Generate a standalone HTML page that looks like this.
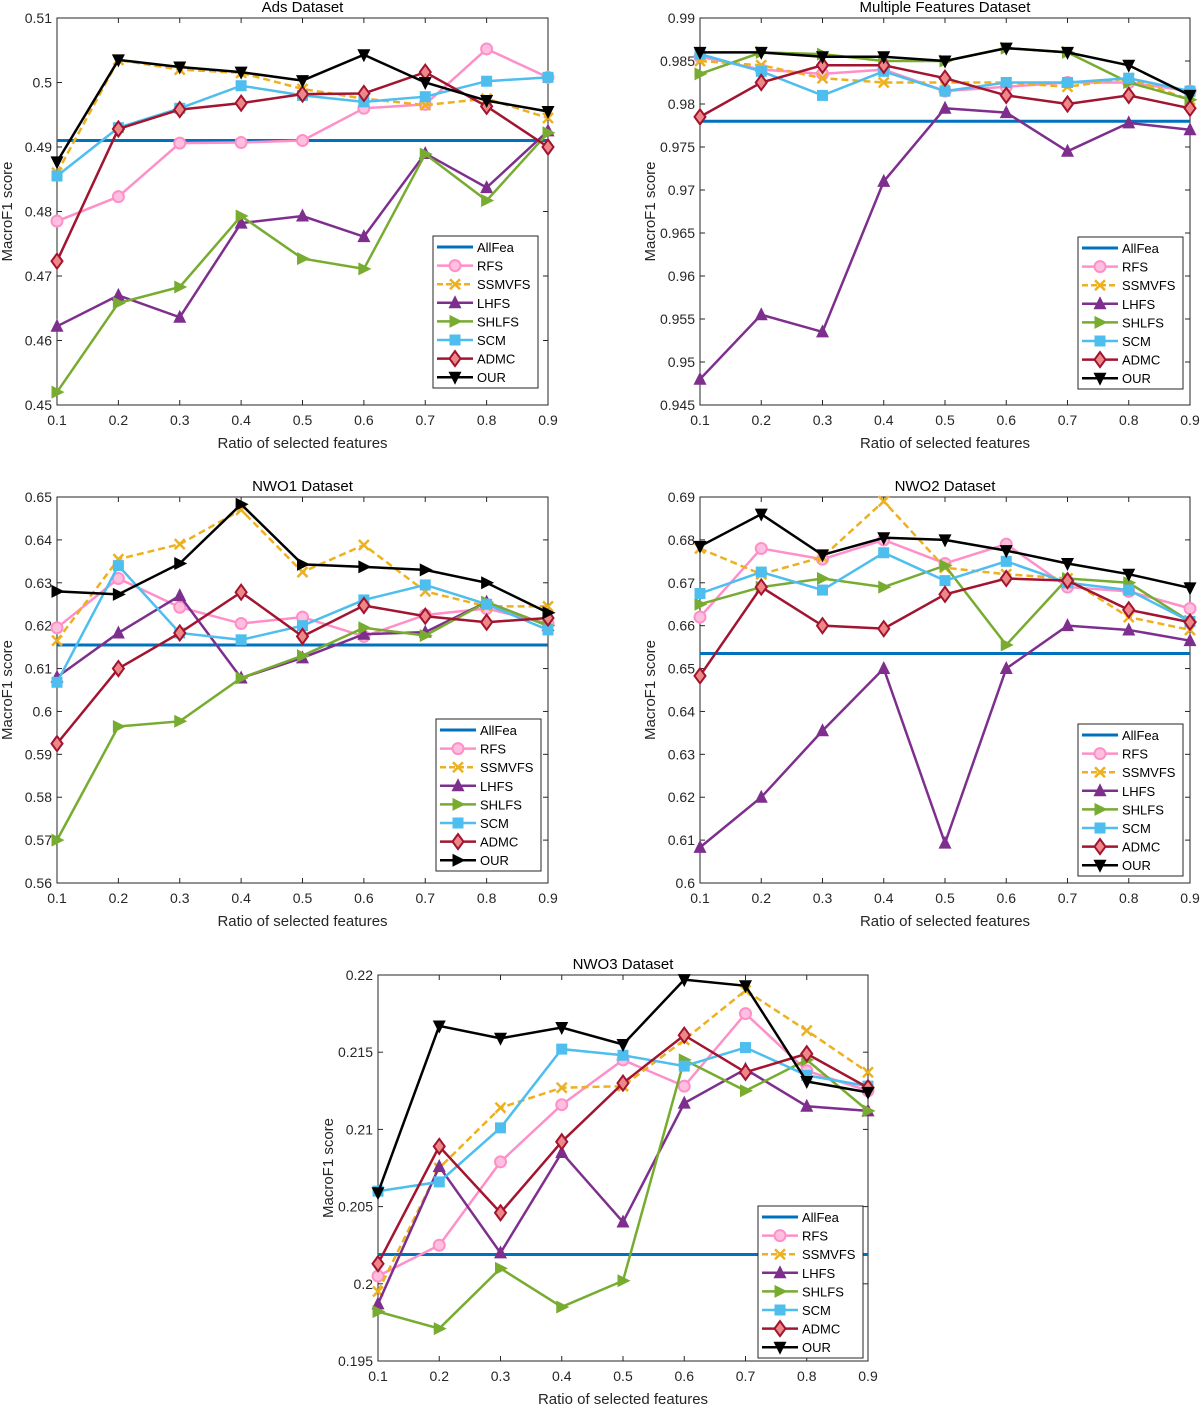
<!DOCTYPE html>
<html><head><meta charset="utf-8">
<style>
body{margin:0;background:#fff;}
svg{display:block;font-family:"Liberation Sans",sans-serif;}
</style></head>
<body>
<svg id="fig" width="1200" height="1405" viewBox="0 0 1200 1405" xmlns="http://www.w3.org/2000/svg"></svg>
<script>
const xCats=[0.1,0.2,0.3,0.4,0.5,0.6,0.7,0.8,0.9];
const seriesNames=["AllFea","RFS","SSMVFS","LHFS","SHLFS","SCM","ADMC","OUR"];
// Ads
const adsAll=[0.491,0.491,0.491,0.491,0.491,0.491,0.491,0.491,0.491];
const adsRFS=[0.4785,0.4823,0.4906,0.4907,0.4910,0.4960,0.4966,0.5052,0.5008];
const adsSSM=[0.486,0.5035,0.502,0.5015,0.499,0.4975,0.4965,0.4975,0.4945];
const adsLH=[0.4622,0.4670,0.4636,0.4782,0.4793,0.4761,0.4890,0.4837,0.4925];
const adsSH=[0.4520,0.4658,0.4683,0.4793,0.4727,0.4711,0.4889,0.4817,0.4922];
const adsSCM=[0.4855,0.4930,0.4960,0.4995,0.4980,0.4970,0.4978,0.5002,0.5008];
const adsADMC=[0.4723,0.4928,0.4958,0.4968,0.4982,0.4983,0.5016,0.4963,0.4900];
const adsOUR=[0.4877,0.5035,0.5024,0.5016,0.5003,0.5043,0.5000,0.4972,0.4955];
// Multiple Features
const mfAll=[0.978,0.978,0.978,0.978,0.978,0.978,0.978,0.978,0.978];
const mfRFS=[0.9855,0.984,0.9835,0.984,0.9815,0.982,0.9825,0.9825,0.9815];
const mfSSM=[0.985,0.9845,0.983,0.9825,0.9825,0.9825,0.982,0.983,0.9805];
const mfLH=[0.948,0.9555,0.9535,0.971,0.9795,0.979,0.9745,0.9778,0.977];
const mfSH=[0.9835,0.986,0.9858,0.985,0.985,0.9865,0.986,0.9825,0.9805];
const mfSCM=[0.9858,0.9838,0.981,0.9838,0.9815,0.9825,0.9825,0.983,0.9815];
const mfADMC=[0.9785,0.9825,0.9845,0.9845,0.983,0.981,0.980,0.981,0.9795];
const mfOUR=[0.986,0.986,0.9855,0.9855,0.985,0.9865,0.986,0.9845,0.981];
// NWO1
const n1All=[0.6155,0.6155,0.6155,0.6155,0.6155,0.6155,0.6155,0.6155,0.6155];
const n1RFS=[0.6195,0.631,0.6243,0.6205,0.622,0.6175,0.6225,0.624,0.6205];
const n1SSM=[0.6165,0.6355,0.639,0.647,0.6325,0.6388,0.628,0.6245,0.6245];
const n1LH=[0.608,0.6183,0.627,0.6078,0.6125,0.618,0.6185,0.6255,0.620];
const n1SH=[0.570,0.5965,0.5977,0.6078,0.613,0.6195,0.6177,0.6255,0.620];
const n1SCM=[0.6068,0.634,0.6183,0.6167,0.620,0.626,0.6295,0.625,0.619];
const n1ADMC=[0.5925,0.610,0.6183,0.6278,0.6175,0.6247,0.6222,0.6208,0.6218];
const n1OUR=[0.628,0.6273,0.6345,0.6483,0.6343,0.6337,0.633,0.630,0.623];
// NWO2
const n2All=[0.6535,0.6535,0.6535,0.6535,0.6535,0.6535,0.6535,0.6535,0.6535];
const n2RFS=[0.662,0.678,0.6755,0.680,0.6745,0.679,0.669,0.668,0.664];
const n2SSM=[0.678,0.672,0.676,0.689,0.6735,0.672,0.671,0.662,0.659];
const n2LH=[0.6083,0.620,0.6355,0.650,0.6093,0.650,0.660,0.659,0.6565];
const n2SH=[0.665,0.669,0.671,0.669,0.674,0.6555,0.671,0.670,0.661];
const n2SCM=[0.6675,0.6725,0.6683,0.677,0.6705,0.675,0.670,0.6683,0.661];
const n2ADMC=[0.6483,0.669,0.660,0.6593,0.6673,0.671,0.6705,0.6637,0.6608];
const n2OUR=[0.6785,0.686,0.6765,0.6805,0.680,0.6775,0.6745,0.672,0.6688];
// NWO3
const n3All=[0.2019,0.2019,0.2019,0.2019,0.2019,0.2019,0.2019,0.2019,0.2019];
const n3RFS=[0.2005,0.2025,0.2079,0.2116,0.2145,0.2128,0.2175,0.2138,0.2125];
const n3SSM=[0.1995,0.2075,0.2114,0.2127,0.2128,0.2158,0.219,0.2164,0.2137];
const n3LH=[0.1987,0.2076,0.2020,0.2085,0.2040,0.2117,0.2139,0.2115,0.2112];
const n3SH=[0.1982,0.1971,0.2010,0.1985,0.2002,0.2145,0.2125,0.2145,0.2112];
const n3SCM=[0.2060,0.2066,0.2101,0.2152,0.2148,0.2141,0.2153,0.2135,0.2128];
const n3ADMC=[0.2013,0.2089,0.2046,0.2092,0.2130,0.2161,0.2137,0.2149,0.2127];
const n3OUR=[0.2059,0.2167,0.2159,0.2166,0.2155,0.2197,0.2193,0.2131,0.2124];
// tick values
const adsTicks=[0.45,0.46,0.47,0.48,0.49,0.5,0.51];
const mfTicks=[0.945,0.95,0.955,0.96,0.965,0.97,0.975,0.98,0.985,0.99];
const n1Ticks=[0.56,0.57,0.58,0.59,0.6,0.61,0.62,0.63,0.64,0.65];
const n2Ticks=[0.6,0.61,0.62,0.63,0.64,0.65,0.66,0.67,0.68,0.69];
const n3Ticks=[0.195,0.2,0.205,0.21,0.215,0.22];

const styles=[
 {c:"#0072BD",m:"none",dash:null,w:3},
 {c:"#FF8FC8",m:"circle",dash:null,w:2.5},
 {c:"#EDB120",m:"x",dash:"7,4",w:2.5},
 {c:"#7E2F8E",m:"up",dash:null,w:2.5},
 {c:"#77AC30",m:"right",dash:null,w:2.5},
 {c:"#4DBEEE",m:"square",dash:null,w:2.5},
 {c:"#A2142F",m:"diamond",dash:null,w:2.5},
 {c:"#000000",m:"down",dash:null,w:2.5}
];
const NS="http://www.w3.org/2000/svg";
const svg=document.getElementById('fig');
function el(tag,attrs,parent){const e=document.createElementNS(NS,tag);for(const k in attrs)e.setAttribute(k,attrs[k]);(parent||svg).appendChild(e);return e;}
function fmt(v){return String(parseFloat(v.toFixed(4)));}
function marker(g,type,x,y,c,s){
 s=s||6.5;let e;
 if(type==="circle")e=el('circle',{cx:x,cy:y,r:s-1,fill:"#ffc0e0",stroke:c,'stroke-width':2},g);
 else if(type==="x"){e=el('path',{d:`M${x-5},${y-5}L${x+5},${y+5}M${x-5},${y+5}L${x+5},${y-5}`,stroke:c,'stroke-width':2.5,fill:"none"},g);}
 else if(type==="up")e=el('path',{d:`M${x},${y-s-1}L${x+s},${y+s-1}L${x-s},${y+s-1}Z`,fill:c},g);
 else if(type==="down")e=el('path',{d:`M${x},${y+s+1}L${x+s},${y-s+1}L${x-s},${y-s+1}Z`,fill:c},g);
 else if(type==="right")e=el('path',{d:`M${x+s+1},${y}L${x-s+1},${y-s}L${x-s+1},${y+s}Z`,fill:c},g);
 else if(type==="square")e=el('rect',{x:x-s+1,y:y-s+1,width:2*s-2,height:2*s-2,fill:c},g);
 else if(type==="diamond")e=el('path',{d:`M${x},${y-s-1}L${x+s-1},${y}L${x},${y+s+1}L${x-s+1},${y}Z`,fill:"#e88",stroke:c,'stroke-width':2},g);
 return e;
}
function chart(cfg){
 const {name,title,x0,x1,y0,y1,ymin,ymax,ticks,data,leg,ourMarker}=cfg;
 const g=el('g',{});
 
 
 const sx=v=>x0+(v-0.1)/(0.8)*(x1-x0);
 const sy=v=>y1-(v-ymin)/(ymax-ymin)*(y1-y0);
 el('rect',{x:x0,y:y0,width:x1-x0,height:y1-y0,fill:"#fff",stroke:"#262626",'stroke-width':1},g);
 // ticks
 xCats.forEach(v=>{const x=sx(v);
  el('line',{x1:x,x2:x,y1:y1,y2:y1-5,stroke:"#262626"},g);
  el('line',{x1:x,x2:x,y1:y0,y2:y0+5,stroke:"#262626"},g);
  const t=el('text',{x:x,y:y1+20,'font-size':14,'text-anchor':'middle',fill:"#262626"},g);t.textContent=fmt(v);
  });
 ticks.forEach(v=>{const y=sy(v);
  el('line',{x1:x0,x2:x0+5,y1:y,y2:y,stroke:"#262626"},g);
  el('line',{x1:x1,x2:x1-5,y1:y,y2:y,stroke:"#262626"},g);
  const t=el('text',{x:x0-5,y:y+5,'font-size':14,'text-anchor':'end',fill:"#262626"},g);t.textContent=fmt(v);
  });
 const tt=el('text',{x:(x0+x1)/2,y:y0-6,'font-size':15,'text-anchor':'middle',fill:"#000"},g);tt.textContent=title;
 
 const xl=el('text',{x:(x0+x1)/2,y:y1+43,'font-size':15,'text-anchor':'middle',fill:"#262626"},g);xl.textContent="Ratio of selected features";
 
 const yx=x0-45,yy=(y0+y1)/2;
 const yl=el('text',{x:yx,y:yy,'font-size':15,'text-anchor':'middle',fill:"#262626",transform:`rotate(-90 ${yx} ${yy})`},g);yl.textContent="MacroF1 score";
 
 data.forEach((arr,i)=>{
  const st=styles[i];
  const mk=(i===7&&ourMarker)?ourMarker:st.m;
  const sg=el('g',{},g);
  
  
  const pts=arr.map((v,j)=>sx(xCats[j])+","+sy(v)).join(" ");
  const pl=el('polyline',{points:pts,fill:"none",stroke:st.c,'stroke-width':st.w},sg);
  if(st.dash)pl.setAttribute('stroke-dasharray',st.dash);
  if(mk!=="none")arr.forEach((v,j)=>{const m=marker(sg,mk,sx(xCats[j]),sy(v),st.c);
   });
 });
 // legend
 const lg=el('g',{},g);
 
 
 el('rect',{x:leg[0],y:leg[1],width:105,height:152,fill:"#fff",stroke:"#262626",'stroke-width':1},lg);
 seriesNames.forEach((n,i)=>{
  const st=styles[i];const mk=(i===7&&ourMarker)?ourMarker:st.m;
  const y=leg[1]+11+i*18.6;const lx=leg[0]+4;
  const ln=el('line',{x1:lx,x2:lx+36,y1:y,y2:y,stroke:st.c,'stroke-width':st.w},lg);
  if(st.dash)ln.setAttribute('stroke-dasharray',"6,3");
  if(mk!=="none")marker(lg,mk,lx+18,y,st.c);
  const t=el('text',{x:lx+40,y:y+5,'font-size':13,fill:"#000"},lg);t.textContent=n;
  
 });
}
chart({name:'ads-chart',title:'Ads Dataset',x0:57,x1:548,y0:18,y1:405,ymin:0.45,ymax:0.51,ticks:adsTicks,
 data:[adsAll,adsRFS,adsSSM,adsLH,adsSH,adsSCM,adsADMC,adsOUR],leg:[433,236]});
chart({name:'multiple-features-chart',title:'Multiple Features Dataset',x0:700,x1:1190,y0:18,y1:405,ymin:0.945,ymax:0.99,ticks:mfTicks,
 data:[mfAll,mfRFS,mfSSM,mfLH,mfSH,mfSCM,mfADMC,mfOUR],leg:[1078,237]});
chart({name:'nwo1-chart',title:'NWO1 Dataset',x0:57,x1:548,y0:497,y1:883,ymin:0.56,ymax:0.65,ticks:n1Ticks,
 data:[n1All,n1RFS,n1SSM,n1LH,n1SH,n1SCM,n1ADMC,n1OUR],leg:[436,719],ourMarker:'right'});
chart({name:'nwo2-chart',title:'NWO2 Dataset',x0:700,x1:1190,y0:497,y1:883,ymin:0.6,ymax:0.69,ticks:n2Ticks,
 data:[n2All,n2RFS,n2SSM,n2LH,n2SH,n2SCM,n2ADMC,n2OUR],leg:[1078,724]});
chart({name:'nwo3-chart',title:'NWO3 Dataset',x0:378,x1:868,y0:975,y1:1361,ymin:0.195,ymax:0.22,ticks:n3Ticks,
 data:[n3All,n3RFS,n3SSM,n3LH,n3SH,n3SCM,n3ADMC,n3OUR],leg:[758,1206]});
</script>
</body></html>
